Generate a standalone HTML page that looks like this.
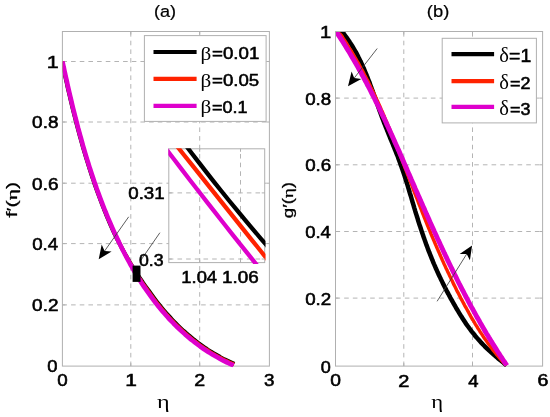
<!DOCTYPE html>
<html><head><meta charset="utf-8"><title>Figure</title>
<style>html,body{margin:0;padding:0;background:#fff;}svg{display:block;}</style></head>
<body>
<svg width="550" height="417" viewBox="0 0 550 417">
<rect width="550" height="417" fill="#fff"/>
<g stroke="#b4b4b4" stroke-width="1" stroke-dasharray="4.6 4.07" fill="none">
<line x1="130.8" y1="366.1" x2="130.8" y2="31.5"/>
<line x1="199.7" y1="366.1" x2="199.7" y2="31.5"/>
<line x1="62.4" y1="61.5" x2="269.4" y2="61.5"/>
<line x1="62.4" y1="122.0" x2="269.4" y2="122.0"/>
<line x1="62.4" y1="183.2" x2="269.4" y2="183.2"/>
<line x1="62.4" y1="243.6" x2="269.4" y2="243.6"/>
<line x1="62.4" y1="304.9" x2="269.4" y2="304.9"/>
</g>
<rect x="62.4" y="31.5" width="206.99999999999997" height="334.6" fill="none" stroke="#b0b0b0" stroke-width="1"/>
<g stroke="#b0b0b0" stroke-width="1">
<line x1="130.8" y1="366.1" x2="130.8" y2="363.1"/><line x1="130.8" y1="31.5" x2="130.8" y2="34.5"/>
<line x1="199.7" y1="366.1" x2="199.7" y2="363.1"/><line x1="199.7" y1="31.5" x2="199.7" y2="34.5"/>
<line x1="62.4" y1="61.5" x2="65.4" y2="61.5"/><line x1="269.4" y1="61.5" x2="266.4" y2="61.5"/>
<line x1="62.4" y1="122.0" x2="65.4" y2="122.0"/><line x1="269.4" y1="122.0" x2="266.4" y2="122.0"/>
<line x1="62.4" y1="183.2" x2="65.4" y2="183.2"/><line x1="269.4" y1="183.2" x2="266.4" y2="183.2"/>
<line x1="62.4" y1="243.6" x2="65.4" y2="243.6"/><line x1="269.4" y1="243.6" x2="266.4" y2="243.6"/>
<line x1="62.4" y1="304.9" x2="65.4" y2="304.9"/><line x1="269.4" y1="304.9" x2="266.4" y2="304.9"/>
</g>
<clipPath id="lc"><rect x="62.85" y="31.95" width="207.0" height="335.2"/></clipPath>
<g fill="none" stroke-linejoin="round" stroke-linecap="butt" clip-path="url(#lc)">
<path d="M62.0,61.6C62.2,62.5 62.7,65.0 63.1,66.7C63.5,68.4 63.8,70.1 64.2,71.8C64.6,73.5 65.0,75.2 65.3,76.9C65.7,78.6 66.1,80.4 66.5,82.1C66.9,83.8 67.2,85.5 67.6,87.2C68.0,88.9 68.4,90.6 68.8,92.3C69.2,94.0 69.6,95.7 70.0,97.4C70.4,99.1 70.8,100.8 71.2,102.5C71.6,104.2 72.0,105.9 72.4,107.6C72.9,109.3 73.3,111.0 73.7,112.7C74.1,114.4 74.5,116.1 75.0,117.8C75.4,119.5 75.8,121.2 76.3,122.9C76.7,124.5 77.2,126.2 77.6,127.9C78.1,129.6 78.5,131.3 79.0,133.0C79.4,134.7 79.9,136.4 80.4,138.1C80.8,139.8 81.3,141.4 81.8,143.1C82.3,144.8 82.7,146.5 83.2,148.2C83.7,149.9 84.2,151.5 84.7,153.2C85.2,154.9 85.7,156.6 86.2,158.2C86.7,159.9 87.3,161.6 87.8,163.3C88.3,164.9 88.8,166.6 89.4,168.3C89.9,169.9 90.4,171.6 91.0,173.3C91.5,174.9 92.1,176.6 92.6,178.2C93.2,179.9 93.8,181.6 94.3,183.2C94.9,184.9 95.5,186.5 96.1,188.2C96.7,189.8 97.2,191.5 97.8,193.1C98.4,194.7 99.1,196.4 99.7,198.0C100.3,199.7 100.9,201.3 101.5,202.9C102.2,204.6 102.8,206.2 103.4,207.8C104.1,209.5 104.7,211.1 105.4,212.7C106.0,214.3 106.7,216.0 107.4,217.6C108.1,219.2 108.7,220.8 109.4,222.4C110.1,224.0 110.8,225.6 111.5,227.3C112.2,228.9 112.9,230.5 113.7,232.1C114.4,233.7 115.2,235.2 115.9,236.8C116.7,238.4 117.5,239.9 118.4,241.5C119.2,243.1 120.0,244.6 120.8,246.2C121.6,247.7 122.5,249.3 123.3,250.8C124.2,252.3 125.0,253.9 125.9,255.4C126.8,256.9 127.6,258.4 128.5,259.9C129.4,261.5 130.3,263.0 131.2,264.5C132.1,266.0 133.0,267.5 134.0,268.9C134.9,270.4 135.8,271.9 136.8,273.4C137.7,274.8 138.7,276.3 139.6,277.7C140.6,279.2 141.6,280.6 142.6,282.0C143.6,283.5 144.6,284.9 145.6,286.3C146.6,287.7 147.7,289.1 148.7,290.5C149.7,291.9 150.7,293.3 151.7,294.7C152.7,296.1 153.7,297.5 154.8,298.9C155.8,300.3 156.8,301.7 157.9,303.0C159.0,304.4 160.1,305.7 161.1,307.0C162.2,308.4 163.3,309.7 164.5,311.0C165.6,312.3 166.7,313.6 167.9,314.9C169.0,316.2 170.2,317.5 171.4,318.7C172.5,320.0 173.7,321.2 174.9,322.4C176.1,323.7 177.4,324.9 178.6,326.1C179.8,327.3 181.1,328.5 182.3,329.6C183.6,330.8 184.9,331.9 186.2,333.1C187.5,334.2 188.8,335.3 190.1,336.4C191.4,337.5 192.8,338.6 194.1,339.7C195.5,340.8 196.8,341.8 198.2,342.9C199.6,343.9 201.0,344.9 202.4,345.9C203.8,346.9 205.2,347.9 206.7,348.8C208.1,349.8 209.6,350.7 211.1,351.6C212.5,352.6 214.0,353.5 215.5,354.3C217.0,355.2 218.5,356.1 220.1,356.9C221.6,357.7 223.1,358.6 224.7,359.4C226.3,360.1 227.8,360.9 229.4,361.7C231.0,362.4 233.5,363.5 234.3,363.9" stroke="#000" stroke-width="4"/>
<path d="M62.3,61.5C62.5,62.4 63.0,65.0 63.4,66.7C63.8,68.4 64.1,70.1 64.5,71.8C64.9,73.5 65.2,75.2 65.6,76.9C66.0,78.6 66.4,80.3 66.8,82.0C67.1,83.7 67.5,85.4 67.9,87.1C68.3,88.8 68.7,90.5 69.1,92.2C69.5,93.9 69.9,95.6 70.3,97.3C70.7,99.0 71.1,100.7 71.5,102.4C71.9,104.1 72.3,105.8 72.7,107.5C73.1,109.2 73.6,110.9 74.0,112.6C74.4,114.3 74.8,116.0 75.3,117.7C75.7,119.4 76.1,121.1 76.6,122.8C77.0,124.5 77.5,126.2 77.9,127.9C78.4,129.5 78.8,131.2 79.3,132.9C79.7,134.6 80.2,136.3 80.7,138.0C81.1,139.7 81.6,141.4 82.1,143.0C82.6,144.7 83.0,146.4 83.5,148.1C84.0,149.8 84.5,151.4 85.0,153.1C85.5,154.8 86.0,156.5 86.5,158.1C87.0,159.8 87.5,161.5 88.1,163.2C88.6,164.8 89.1,166.5 89.6,168.2C90.2,169.8 90.7,171.5 91.3,173.2C91.8,174.8 92.4,176.5 92.9,178.1C93.5,179.8 94.0,181.5 94.6,183.1C95.2,184.8 95.8,186.4 96.4,188.1C96.9,189.7 97.5,191.4 98.1,193.0C98.7,194.6 99.3,196.3 99.9,197.9C100.6,199.6 101.2,201.2 101.8,202.8C102.4,204.5 103.1,206.1 103.7,207.7C104.4,209.4 105.0,211.0 105.7,212.6C106.3,214.2 107.0,215.8 107.7,217.5C108.3,219.1 109.0,220.7 109.7,222.3C110.4,223.9 111.1,225.5 111.8,227.1C112.5,228.7 113.2,230.3 113.9,231.9C114.7,233.5 115.4,235.1 116.2,236.7C116.9,238.3 117.7,239.8 118.5,241.4C119.3,243.0 120.1,244.6 120.9,246.1C121.7,247.7 122.5,249.2 123.4,250.8C124.2,252.3 125.0,253.9 125.9,255.4C126.7,256.9 127.6,258.5 128.4,260.0C129.3,261.5 130.2,263.0 131.1,264.5C131.9,266.1 132.8,267.6 133.8,269.1C134.7,270.6 135.6,272.0 136.5,273.5C137.4,275.0 138.4,276.5 139.3,277.9C140.3,279.4 141.2,280.8 142.2,282.3C143.2,283.7 144.2,285.2 145.2,286.6C146.2,288.0 147.2,289.4 148.2,290.8C149.2,292.3 150.2,293.7 151.2,295.1C152.2,296.5 153.2,297.9 154.3,299.3C155.3,300.7 156.4,302.0 157.4,303.4C158.5,304.7 159.6,306.1 160.7,307.4C161.8,308.8 162.9,310.1 164.0,311.4C165.1,312.7 166.3,314.0 167.4,315.3C168.6,316.6 169.7,317.9 170.9,319.1C172.1,320.4 173.3,321.6 174.5,322.9C175.7,324.1 176.9,325.3 178.2,326.5C179.4,327.7 180.7,328.9 181.9,330.1C183.2,331.2 184.5,332.4 185.8,333.5C187.1,334.7 188.4,335.8 189.7,336.9C191.0,338.0 192.4,339.1 193.7,340.2C195.1,341.2 196.5,342.3 197.9,343.3C199.2,344.4 200.6,345.4 202.1,346.4C203.5,347.4 204.9,348.4 206.4,349.3C207.8,350.3 209.3,351.2 210.7,352.2C212.2,353.1 213.7,354.0 215.2,354.9C216.7,355.7 218.2,356.6 219.8,357.4C221.3,358.3 222.9,359.1 224.4,359.9C226.0,360.7 227.6,361.5 229.2,362.2C230.8,363.0 233.2,364.0 234.1,364.4" stroke="#ff2200" stroke-width="3.6"/>
<path d="M62.5,61.5C62.7,62.4 63.2,64.9 63.6,66.6C64.0,68.3 64.3,70.0 64.7,71.7C65.1,73.4 65.4,75.1 65.8,76.8C66.2,78.5 66.6,80.2 67.0,81.9C67.3,83.7 67.7,85.4 68.1,87.1C68.5,88.8 68.9,90.5 69.3,92.2C69.7,93.9 70.1,95.6 70.5,97.3C70.9,99.0 71.3,100.7 71.7,102.4C72.1,104.1 72.5,105.8 72.9,107.5C73.3,109.2 73.8,110.9 74.2,112.6C74.6,114.3 75.0,116.0 75.5,117.6C75.9,119.3 76.3,121.0 76.8,122.7C77.2,124.4 77.7,126.1 78.1,127.8C78.6,129.5 79.0,131.2 79.5,132.9C79.9,134.6 80.4,136.2 80.9,137.9C81.3,139.6 81.8,141.3 82.3,143.0C82.7,144.7 83.2,146.4 83.7,148.0C84.2,149.7 84.7,151.4 85.2,153.1C85.7,154.7 86.2,156.4 86.7,158.1C87.2,159.8 87.7,161.4 88.3,163.1C88.8,164.8 89.3,166.4 89.8,168.1C90.4,169.8 90.9,171.4 91.5,173.1C92.0,174.8 92.6,176.4 93.1,178.1C93.7,179.7 94.2,181.4 94.8,183.0C95.4,184.7 96.0,186.3 96.5,188.0C97.1,189.6 97.7,191.3 98.3,192.9C98.9,194.6 99.5,196.2 100.1,197.9C100.7,199.5 101.4,201.1 102.0,202.8C102.6,204.4 103.3,206.0 103.9,207.7C104.5,209.3 105.2,210.9 105.9,212.5C106.5,214.2 107.2,215.8 107.8,217.4C108.5,219.0 109.2,220.6 109.9,222.2C110.6,223.8 111.3,225.4 112.0,227.1C112.7,228.7 113.4,230.3 114.1,231.9C114.8,233.5 115.6,235.0 116.3,236.6C117.1,238.2 117.8,239.8 118.6,241.4C119.3,243.0 120.1,244.6 120.9,246.1C121.6,247.7 122.4,249.3 123.2,250.8C124.0,252.4 124.8,254.0 125.6,255.5C126.4,257.1 127.3,258.6 128.1,260.2C128.9,261.7 129.8,263.3 130.6,264.8C131.5,266.3 132.4,267.8 133.2,269.3C134.1,270.9 135.0,272.4 135.9,273.9C136.8,275.4 137.7,276.9 138.6,278.4C139.6,279.8 140.5,281.3 141.4,282.8C142.4,284.2 143.4,285.7 144.3,287.2C145.3,288.6 146.3,290.0 147.3,291.5C148.3,292.9 149.3,294.3 150.3,295.7C151.3,297.1 152.3,298.5 153.4,299.9C154.4,301.3 155.5,302.7 156.6,304.1C157.6,305.4 158.7,306.8 159.8,308.1C160.9,309.5 162.0,310.8 163.2,312.1C164.3,313.4 165.4,314.7 166.6,316.0C167.8,317.3 168.9,318.6 170.1,319.9C171.3,321.1 172.5,322.4 173.7,323.6C174.9,324.9 176.2,326.1 177.4,327.3C178.7,328.5 179.9,329.7 181.2,330.9C182.5,332.1 183.8,333.2 185.1,334.4C186.4,335.5 187.7,336.6 189.0,337.7C190.3,338.9 191.7,340.0 193.1,341.0C194.4,342.1 195.8,343.2 197.2,344.2C198.6,345.3 200.0,346.3 201.4,347.3C202.8,348.3 204.3,349.3 205.7,350.2C207.2,351.2 208.7,352.2 210.2,353.1C211.6,354.0 213.1,354.9 214.7,355.8C216.2,356.7 217.7,357.6 219.3,358.4C220.8,359.2 222.4,360.1 223.9,360.9C225.5,361.7 227.1,362.5 228.7,363.2C230.3,364.0 232.8,365.0 233.6,365.4" stroke="#de00cc" stroke-width="4.6"/>
</g>
<line x1="128.7" y1="216.8" x2="104.6" y2="251.0" stroke="#333" stroke-width="0.8"/><polygon points="98.7,259.3 101.7,244.5 104.6,251.0 111.6,251.5" fill="#000"/>
<line x1="159.9" y1="232.7" x2="141.0" y2="260.0" stroke="#333" stroke-width="0.8"/>
<rect x="132.6" y="265.6" width="7.9" height="16.3" fill="#000"/>
<rect x="144.4" y="35.6" width="121.7" height="85.8" fill="#fff" stroke="#b0b0b0" stroke-width="1"/>
<line x1="153.5" y1="52.0" x2="196.6" y2="52.0" stroke="#000" stroke-width="4.2"/>
<line x1="153.5" y1="78.9" x2="196.6" y2="78.9" stroke="#ff2200" stroke-width="4.2"/>
<line x1="153.5" y1="105.8" x2="196.6" y2="105.8" stroke="#de00cc" stroke-width="4.2"/>
<rect x="168.8" y="148.8" width="95.9" height="113.8" fill="#fff"/>
<g stroke="#b4b4b4" stroke-width="1" stroke-dasharray="4.6 4.07">
<line x1="199.7" y1="262.6" x2="199.7" y2="148.8"/>
<line x1="240.5" y1="262.6" x2="240.5" y2="148.8"/>
<line x1="168.8" y1="192.9" x2="264.7" y2="192.9"/>
<line x1="168.8" y1="259.0" x2="264.7" y2="259.0"/>
</g>
<clipPath id="ic"><rect x="168.3" y="148.3" width="97.2" height="115.6"/></clipPath>
<rect x="168.8" y="148.8" width="95.9" height="113.8" fill="none" stroke="#b0b0b0" stroke-width="1"/>
<g clip-path="url(#ic)" stroke-width="4.3" fill="none">
<path d="M184.78,144.00 L191.93,153.45 L199.18,162.91 L206.53,172.36 L213.98,181.82 L221.53,191.27 L229.18,200.73 L236.94,210.18 L244.79,219.64 L252.75,229.09 L260.81,238.55 L268.97,248.00" stroke="#000"/>
<path d="M175.28,144.00 L183.82,154.73 L192.37,165.45 L200.92,176.18 L209.47,186.91 L218.03,197.64 L226.59,208.36 L235.16,219.09 L243.73,229.82 L252.30,240.55 L260.88,251.27 L269.46,262.00" stroke="#ff2200"/>
<path d="M165.37,148.00 L173.62,158.82 L181.92,169.64 L190.25,180.45 L198.62,191.27 L207.04,202.09 L215.50,212.91 L224.00,223.73 L232.54,234.55 L241.12,245.36 L249.74,256.18 L258.41,267.00" stroke="#de00cc"/>
</g>
<g stroke="#b0b0b0" stroke-width="1">
<line x1="199.7" y1="262.6" x2="199.7" y2="259.6"/><line x1="199.7" y1="148.8" x2="199.7" y2="151.8"/>
<line x1="240.5" y1="262.6" x2="240.5" y2="259.6"/><line x1="240.5" y1="148.8" x2="240.5" y2="151.8"/>
<line x1="168.8" y1="192.9" x2="171.8" y2="192.9"/><line x1="264.7" y1="192.9" x2="261.7" y2="192.9"/>
<line x1="168.8" y1="259.0" x2="171.8" y2="259.0"/><line x1="264.7" y1="259.0" x2="261.7" y2="259.0"/>
</g>
<g stroke="#b4b4b4" stroke-width="1" stroke-dasharray="4.6 4.07" fill="none">
<line x1="403.8" y1="366.1" x2="403.8" y2="31.5"/>
<line x1="472.5" y1="366.1" x2="472.5" y2="31.5"/>
<line x1="335.5" y1="98.1" x2="542.6" y2="98.1"/>
<line x1="335.5" y1="164.8" x2="542.6" y2="164.8"/>
<line x1="335.5" y1="231.5" x2="542.6" y2="231.5"/>
<line x1="335.5" y1="298.1" x2="542.6" y2="298.1"/>
</g>
<rect x="335.5" y="31.5" width="207.1" height="334.6" fill="none" stroke="#b0b0b0" stroke-width="1"/>
<g stroke="#b0b0b0" stroke-width="1">
<line x1="403.8" y1="366.1" x2="403.8" y2="363.1"/><line x1="403.8" y1="31.5" x2="403.8" y2="34.5"/>
<line x1="472.5" y1="366.1" x2="472.5" y2="363.1"/><line x1="472.5" y1="31.5" x2="472.5" y2="34.5"/>
<line x1="335.5" y1="98.1" x2="338.5" y2="98.1"/><line x1="542.6" y1="98.1" x2="539.6" y2="98.1"/>
<line x1="335.5" y1="164.8" x2="338.5" y2="164.8"/><line x1="542.6" y1="164.8" x2="539.6" y2="164.8"/>
<line x1="335.5" y1="231.5" x2="338.5" y2="231.5"/><line x1="542.6" y1="231.5" x2="539.6" y2="231.5"/>
<line x1="335.5" y1="298.1" x2="338.5" y2="298.1"/><line x1="542.6" y1="298.1" x2="539.6" y2="298.1"/>
</g>
<clipPath id="rc"><rect x="335.95" y="31.95" width="207.1" height="335.2"/></clipPath>
<g fill="none" stroke-linejoin="round" stroke-linecap="butt" clip-path="url(#rc)">
<path d="M335.5,31.5C336.1,31.3 337.7,30.3 338.8,30.4C339.9,30.5 341.0,31.2 342.0,31.9C343.0,32.6 343.7,33.7 344.6,34.8C345.5,35.9 346.4,37.3 347.3,38.5C348.2,39.8 349.0,41.0 349.8,42.3C350.7,43.5 351.5,44.8 352.2,46.0C353.0,47.3 353.7,48.5 354.5,49.8C355.2,51.0 355.9,52.3 356.6,53.5C357.2,54.8 357.9,56.0 358.5,57.3C359.2,58.6 359.8,59.8 360.4,61.1C361.0,62.3 361.6,63.6 362.1,64.8C362.7,66.1 363.3,67.3 363.8,68.6C364.4,69.8 364.9,71.1 365.4,72.3C365.9,73.6 366.5,74.8 367.0,76.1C367.5,77.3 367.9,78.6 368.4,79.8C368.9,81.1 369.4,82.3 369.9,83.6C370.3,84.9 370.8,86.1 371.3,87.4C371.7,88.6 372.2,89.9 372.6,91.1C373.1,92.4 373.5,93.6 374.0,94.9C374.4,96.1 374.9,97.4 375.3,98.6C375.8,99.9 376.2,101.1 376.7,102.4C377.1,103.6 377.5,104.9 378.0,106.1C378.4,107.4 378.9,108.6 379.3,109.9C379.8,111.2 380.2,112.4 380.7,113.7C381.2,114.9 381.6,116.2 382.1,117.4C382.6,118.7 383.0,119.9 383.5,121.2C384.0,122.4 384.5,123.7 385.0,124.9C385.5,126.2 386.0,127.4 386.5,128.7C387.0,129.9 387.5,131.2 388.0,132.4C388.5,133.7 389.0,135.0 389.5,136.2C390.0,137.5 390.5,138.7 391.0,140.0C391.5,141.2 392.1,142.5 392.6,143.7C393.1,145.0 393.6,146.2 394.1,147.5C394.6,148.7 395.1,150.0 395.6,151.2C396.1,152.5 396.6,153.7 397.1,155.0C397.6,156.2 398.1,157.5 398.5,158.7C399.0,160.0 399.5,161.3 399.9,162.5C400.4,163.8 400.9,165.0 401.3,166.3C401.7,167.5 402.2,168.8 402.6,170.0C403.0,171.3 403.5,172.5 403.9,173.8C404.3,175.0 404.7,176.3 405.1,177.5C405.5,178.8 405.9,180.0 406.3,181.3C406.7,182.5 407.1,183.8 407.5,185.0C407.8,186.3 408.2,187.6 408.6,188.8C409.0,190.1 409.4,191.3 409.7,192.6C410.1,193.8 410.5,195.1 410.9,196.3C411.2,197.6 411.6,198.8 412.0,200.1C412.3,201.3 412.7,202.6 413.1,203.8C413.5,205.1 413.8,206.3 414.2,207.6C414.6,208.8 415.0,210.1 415.3,211.3C415.7,212.6 416.1,213.9 416.5,215.1C416.9,216.4 417.3,217.6 417.7,218.9C418.0,220.1 418.4,221.4 418.8,222.6C419.2,223.9 419.6,225.1 420.1,226.4C420.5,227.6 420.9,228.9 421.3,230.1C421.7,231.4 422.1,232.6 422.6,233.9C423.0,235.1 423.4,236.4 423.9,237.7C424.3,238.9 424.7,240.2 425.2,241.4C425.6,242.7 426.1,243.9 426.5,245.2C427.0,246.4 427.5,247.7 427.9,248.9C428.4,250.2 428.9,251.4 429.4,252.7C429.9,253.9 430.4,255.2 430.9,256.4C431.4,257.7 431.9,258.9 432.4,260.2C432.9,261.4 433.5,262.7 434.0,264.0C434.5,265.2 435.1,266.5 435.6,267.7C436.2,269.0 436.7,270.2 437.3,271.5C437.9,272.7 438.4,274.0 439.0,275.2C439.6,276.5 440.2,277.7 440.8,279.0C441.4,280.2 442.0,281.5 442.6,282.7C443.2,284.0 443.9,285.2 444.5,286.5C445.1,287.7 445.8,289.0 446.4,290.3C447.1,291.5 447.7,292.8 448.4,294.0C449.1,295.3 449.7,296.5 450.4,297.8C451.1,299.0 451.8,300.3 452.5,301.5C453.2,302.8 453.9,304.0 454.6,305.3C455.4,306.5 456.1,307.8 456.8,309.0C457.6,310.3 458.3,311.5 459.1,312.8C459.8,314.0 460.6,315.3 461.4,316.6C462.2,317.8 463.0,319.1 463.8,320.3C464.6,321.6 465.4,322.8 466.3,324.1C467.2,325.3 468.1,326.6 469.0,327.8C469.9,329.1 470.8,330.3 471.8,331.6C472.8,332.8 473.8,334.1 474.8,335.3C475.8,336.6 476.9,337.8 478.0,339.1C479.1,340.3 480.2,341.6 481.4,342.9C482.6,344.1 483.8,345.4 485.0,346.6C486.3,347.9 487.6,349.1 489.0,350.4C490.3,351.6 491.7,352.9 493.1,354.1C494.5,355.4 496.0,356.6 497.5,357.9C499.0,359.1 500.5,360.4 502.0,361.6C503.5,362.9 505.9,364.8 506.6,365.4" stroke="#000" stroke-width="4.5"/>
<path d="M335.5,31.5C336.4,32.0 339.6,33.6 340.9,34.8C342.2,35.9 342.5,37.3 343.3,38.5C344.2,39.8 345.0,41.0 345.8,42.3C346.6,43.5 347.4,44.8 348.1,46.0C348.9,47.3 349.7,48.5 350.4,49.8C351.2,51.0 352.0,52.3 352.7,53.5C353.4,54.8 354.2,56.0 354.9,57.3C355.6,58.6 356.4,59.8 357.1,61.1C357.8,62.3 358.5,63.6 359.2,64.8C359.9,66.1 360.6,67.3 361.2,68.6C361.9,69.8 362.6,71.1 363.3,72.3C363.9,73.6 364.6,74.8 365.2,76.1C365.9,77.3 366.5,78.6 367.2,79.8C367.8,81.1 368.4,82.3 369.1,83.6C369.7,84.9 370.3,86.1 370.9,87.4C371.5,88.6 372.2,89.9 372.8,91.1C373.4,92.4 374.0,93.6 374.6,94.9C375.2,96.1 375.7,97.4 376.3,98.6C376.9,99.9 377.5,101.1 378.1,102.4C378.6,103.6 379.2,104.9 379.8,106.1C380.3,107.4 380.9,108.6 381.4,109.9C382.0,111.2 382.6,112.4 383.1,113.7C383.6,114.9 384.2,116.2 384.7,117.4C385.3,118.7 385.8,119.9 386.3,121.2C386.9,122.4 387.4,123.7 387.9,124.9C388.5,126.2 389.0,127.4 389.5,128.7C390.0,129.9 390.5,131.2 391.0,132.4C391.6,133.7 392.1,135.0 392.6,136.2C393.1,137.5 393.6,138.7 394.1,140.0C394.6,141.2 395.1,142.5 395.6,143.7C396.1,145.0 396.6,146.2 397.1,147.5C397.6,148.7 398.1,150.0 398.6,151.2C399.1,152.5 399.6,153.7 400.1,155.0C400.5,156.2 401.0,157.5 401.5,158.7C402.0,160.0 402.5,161.3 403.0,162.5C403.5,163.8 403.9,165.0 404.4,166.3C404.9,167.5 405.4,168.8 405.9,170.0C406.4,171.3 406.8,172.5 407.3,173.8C407.8,175.0 408.3,176.3 408.8,177.5C409.2,178.8 409.7,180.0 410.2,181.3C410.7,182.5 411.2,183.8 411.7,185.0C412.1,186.3 412.6,187.6 413.1,188.8C413.6,190.1 414.1,191.3 414.5,192.6C415.0,193.8 415.5,195.1 416.0,196.3C416.5,197.6 417.0,198.8 417.5,200.1C418.0,201.3 418.4,202.6 418.9,203.8C419.4,205.1 419.9,206.3 420.4,207.6C420.9,208.8 421.4,210.1 421.9,211.3C422.4,212.6 422.9,213.9 423.4,215.1C423.9,216.4 424.4,217.6 424.9,218.9C425.4,220.1 425.9,221.4 426.4,222.6C426.9,223.9 427.4,225.1 427.9,226.4C428.4,227.6 429.0,228.9 429.5,230.1C430.0,231.4 430.5,232.6 431.0,233.9C431.6,235.1 432.1,236.4 432.6,237.7C433.1,238.9 433.7,240.2 434.2,241.4C434.7,242.7 435.3,243.9 435.8,245.2C436.3,246.4 436.9,247.7 437.4,248.9C438.0,250.2 438.5,251.4 439.1,252.7C439.6,253.9 440.2,255.2 440.7,256.4C441.3,257.7 441.8,258.9 442.4,260.2C443.0,261.4 443.5,262.7 444.1,264.0C444.7,265.2 445.3,266.5 445.8,267.7C446.4,269.0 447.0,270.2 447.6,271.5C448.2,272.7 448.8,274.0 449.4,275.2C450.0,276.5 450.6,277.7 451.2,279.0C451.8,280.2 452.4,281.5 453.0,282.7C453.6,284.0 454.2,285.2 454.9,286.5C455.5,287.7 456.1,289.0 456.7,290.3C457.4,291.5 458.0,292.8 458.7,294.0C459.3,295.3 460.0,296.5 460.6,297.8C461.3,299.0 461.9,300.3 462.6,301.5C463.3,302.8 463.9,304.0 464.6,305.3C465.3,306.5 466.0,307.8 466.7,309.0C467.4,310.3 468.1,311.5 468.8,312.8C469.5,314.0 470.2,315.3 470.9,316.6C471.6,317.8 472.3,319.1 473.1,320.3C473.8,321.6 474.6,322.8 475.3,324.1C476.1,325.3 476.8,326.6 477.6,327.8C478.4,329.1 479.2,330.3 480.0,331.6C480.8,332.8 481.6,334.1 482.5,335.3C483.3,336.6 484.2,337.8 485.0,339.1C485.9,340.3 486.8,341.6 487.7,342.9C488.6,344.1 489.5,345.4 490.4,346.6C491.4,347.9 492.3,349.1 493.3,350.4C494.3,351.6 495.3,352.9 496.3,354.1C497.4,355.4 498.4,356.6 499.5,357.9C500.5,359.1 501.6,360.4 502.7,361.6C503.9,362.9 505.6,364.8 506.2,365.4" stroke="#ff2200" stroke-width="3.4"/>
<path d="M335.8,31.0C336.2,31.7 337.6,33.7 338.4,35.0C339.3,36.3 340.2,37.7 341.0,39.0C341.9,40.3 342.8,41.7 343.6,43.0C344.4,44.4 345.3,45.7 346.1,47.1C346.9,48.4 347.8,49.8 348.6,51.1C349.4,52.5 350.2,53.9 351.0,55.2C351.8,56.6 352.6,58.0 353.4,59.3C354.2,60.7 355.0,62.1 355.8,63.4C356.6,64.8 357.4,66.2 358.2,67.6C358.9,69.0 359.7,70.4 360.5,71.7C361.2,73.1 362.0,74.5 362.7,75.9C363.5,77.3 364.2,78.7 365.0,80.1C365.7,81.5 366.5,82.9 367.2,84.3C367.9,85.7 368.7,87.1 369.4,88.5C370.1,89.9 370.8,91.3 371.5,92.8C372.3,94.2 373.0,95.6 373.7,97.0C374.4,98.4 375.1,99.8 375.8,101.3C376.5,102.7 377.2,104.1 377.9,105.5C378.6,106.9 379.3,108.4 380.0,109.8C380.7,111.2 381.3,112.7 382.0,114.1C382.7,115.5 383.4,116.9 384.1,118.4C384.7,119.8 385.4,121.3 386.1,122.7C386.7,124.1 387.4,125.6 388.1,127.0C388.7,128.4 389.4,129.9 390.1,131.3C390.7,132.8 391.4,134.2 392.0,135.7C392.7,137.1 393.3,138.6 394.0,140.0C394.6,141.4 395.3,142.9 395.9,144.3C396.6,145.8 397.2,147.2 397.9,148.7C398.5,150.1 399.2,151.6 399.8,153.0C400.4,154.5 401.1,155.9 401.7,157.4C402.4,158.9 403.0,160.3 403.6,161.8C404.3,163.2 404.9,164.7 405.5,166.1C406.2,167.6 406.8,169.0 407.4,170.5C408.1,171.9 408.7,173.4 409.3,174.9C410.0,176.3 410.6,177.8 411.2,179.2C411.9,180.7 412.5,182.1 413.1,183.6C413.8,185.1 414.4,186.5 415.0,188.0C415.7,189.4 416.3,190.9 417.0,192.3C417.6,193.8 418.2,195.2 418.9,196.7C419.5,198.2 420.1,199.6 420.8,201.1C421.4,202.5 422.1,204.0 422.7,205.4C423.3,206.9 424.0,208.3 424.6,209.8C425.3,211.2 425.9,212.7 426.5,214.1C427.2,215.6 427.8,217.0 428.5,218.5C429.1,219.9 429.8,221.4 430.4,222.8C431.1,224.3 431.7,225.7 432.4,227.2C433.0,228.6 433.7,230.1 434.3,231.5C435.0,233.0 435.7,234.4 436.3,235.9C437.0,237.3 437.6,238.7 438.3,240.2C439.0,241.6 439.6,243.1 440.3,244.5C441.0,246.0 441.6,247.4 442.3,248.8C443.0,250.3 443.7,251.7 444.3,253.1C445.0,254.6 445.7,256.0 446.4,257.4C447.1,258.9 447.7,260.3 448.4,261.7C449.1,263.2 449.8,264.6 450.5,266.0C451.2,267.4 451.9,268.9 452.6,270.3C453.3,271.7 454.0,273.1 454.7,274.6C455.4,276.0 456.1,277.4 456.8,278.8C457.5,280.2 458.2,281.7 458.9,283.1C459.7,284.5 460.4,285.9 461.1,287.3C461.8,288.7 462.5,290.1 463.3,291.5C464.0,293.0 464.7,294.4 465.5,295.8C466.2,297.2 467.0,298.6 467.7,300.0C468.4,301.4 469.2,302.8 469.9,304.2C470.7,305.6 471.4,307.0 472.2,308.3C473.0,309.7 473.7,311.1 474.5,312.5C475.3,313.9 476.0,315.3 476.8,316.7C477.6,318.1 478.4,319.4 479.2,320.8C479.9,322.2 480.7,323.6 481.5,324.9C482.3,326.3 483.1,327.7 483.9,329.1C484.7,330.4 485.5,331.8 486.3,333.2C487.1,334.5 488.0,335.9 488.8,337.3C489.6,338.6 490.4,340.0 491.3,341.3C492.1,342.7 492.9,344.0 493.8,345.4C494.6,346.7 495.5,348.1 496.3,349.4C497.2,350.8 498.0,352.1 498.9,353.4C499.8,354.8 500.6,356.1 501.5,357.4C502.4,358.8 503.2,360.1 504.1,361.4C505.0,362.8 506.4,364.7 506.8,365.4" stroke="#de00cc" stroke-width="4.9"/>
</g>
<line x1="377.2" y1="48.5" x2="354.2" y2="78.1" stroke="#333" stroke-width="0.8"/><polygon points="348.0,86.2 351.6,71.6 354.2,78.1 361.3,79.0" fill="#000"/>
<line x1="437.1" y1="301.3" x2="466.7" y2="254.0" stroke="#333" stroke-width="0.8"/><polygon points="472.1,245.4 469.9,260.3 466.7,254.0 459.6,253.9" fill="#000"/>
<rect x="442.2" y="38.3" width="94.2" height="84.6" fill="#fff" stroke="#b0b0b0" stroke-width="1"/>
<line x1="451.5" y1="54.2" x2="494.1" y2="54.2" stroke="#000" stroke-width="4.2"/>
<line x1="451.5" y1="81.1" x2="494.1" y2="81.1" stroke="#ff2200" stroke-width="4.2"/>
<line x1="451.5" y1="106.9" x2="494.1" y2="106.9" stroke="#de00cc" stroke-width="4.2"/>
<g fill="#000">
<text transform="translate(154.01,17.17) scale(1.142,1)" font-family='"Liberation Sans", sans-serif' font-size="15.85" font-weight="normal" stroke="#000" stroke-width="0.19">(a)</text>
<text transform="translate(426.80,16.85) scale(1.152,1)" font-family='"Liberation Sans", sans-serif' font-size="15.96" font-weight="normal" stroke="#000" stroke-width="0.19">(b)</text>
<text transform="translate(46.81,67.96) scale(1.267,1)" font-family='"Liberation Sans", sans-serif' font-size="16.99" font-weight="normal" stroke="#000" stroke-width="0.58">1</text>
<text transform="translate(32.12,128.30) scale(1.146,1)" font-family='"Liberation Sans", sans-serif' font-size="16.53" font-weight="normal" stroke="#000" stroke-width="0.56">0.8</text>
<text transform="translate(32.12,189.50) scale(1.146,1)" font-family='"Liberation Sans", sans-serif' font-size="16.53" font-weight="normal" stroke="#000" stroke-width="0.56">0.6</text>
<text transform="translate(32.13,249.90) scale(1.130,1)" font-family='"Liberation Sans", sans-serif' font-size="16.53" font-weight="normal" stroke="#000" stroke-width="0.56">0.4</text>
<text transform="translate(32.12,311.20) scale(1.146,1)" font-family='"Liberation Sans", sans-serif' font-size="16.53" font-weight="normal" stroke="#000" stroke-width="0.56">0.2</text>
<text transform="translate(47.23,372.40) scale(1.115,1)" font-family='"Liberation Sans", sans-serif' font-size="16.53" font-weight="normal" stroke="#000" stroke-width="0.56">0</text>
<text transform="translate(57.22,386.22) scale(1.176,1)" font-family='"Liberation Sans", sans-serif' font-size="16.00" font-weight="normal" stroke="#000" stroke-width="0.54">0</text>
<text transform="translate(125.35,386.37) scale(1.270,1)" font-family='"Liberation Sans", sans-serif' font-size="16.44" font-weight="normal" stroke="#000" stroke-width="0.56">1</text>
<text transform="translate(194.31,386.38) scale(1.208,1)" font-family='"Liberation Sans", sans-serif' font-size="16.22" font-weight="normal" stroke="#000" stroke-width="0.55">2</text>
<text transform="translate(264.12,386.22) scale(1.176,1)" font-family='"Liberation Sans", sans-serif' font-size="16.00" font-weight="normal" stroke="#000" stroke-width="0.54">3</text>
<text transform="translate(319.99,38.07) scale(1.210,1)" font-family='"Liberation Sans", sans-serif' font-size="16.71" font-weight="normal" stroke="#000" stroke-width="0.57">1</text>
<text transform="translate(305.13,104.51) scale(1.152,1)" font-family='"Liberation Sans", sans-serif' font-size="16.27" font-weight="normal" stroke="#000" stroke-width="0.55">0.8</text>
<text transform="translate(305.13,171.21) scale(1.152,1)" font-family='"Liberation Sans", sans-serif' font-size="16.27" font-weight="normal" stroke="#000" stroke-width="0.55">0.6</text>
<text transform="translate(305.13,237.91) scale(1.135,1)" font-family='"Liberation Sans", sans-serif' font-size="16.27" font-weight="normal" stroke="#000" stroke-width="0.55">0.4</text>
<text transform="translate(305.13,304.51) scale(1.152,1)" font-family='"Liberation Sans", sans-serif' font-size="16.27" font-weight="normal" stroke="#000" stroke-width="0.55">0.2</text>
<text transform="translate(320.64,372.51) scale(1.109,1)" font-family='"Liberation Sans", sans-serif' font-size="16.27" font-weight="normal" stroke="#000" stroke-width="0.55">0</text>
<text transform="translate(330.22,386.41) scale(1.172,1)" font-family='"Liberation Sans", sans-serif' font-size="16.40" font-weight="normal" stroke="#000" stroke-width="0.56">0</text>
<text transform="translate(398.30,386.57) scale(1.203,1)" font-family='"Liberation Sans", sans-serif' font-size="16.62" font-weight="normal" stroke="#000" stroke-width="0.57">2</text>
<text transform="translate(468.22,386.73) scale(1.082,1)" font-family='"Liberation Sans", sans-serif' font-size="17.08" font-weight="normal" stroke="#000" stroke-width="0.58">4</text>
<text transform="translate(537.61,386.41) scale(1.195,1)" font-family='"Liberation Sans", sans-serif' font-size="16.40" font-weight="normal" stroke="#000" stroke-width="0.56">6</text>
<text transform="translate(128.23,199.33) scale(1.190,1)" font-family='"Liberation Sans", sans-serif' font-size="15.73" font-weight="normal" stroke="#000" stroke-width="0.53">0.31</text>
<text transform="translate(138.95,265.83) scale(1.134,1)" font-family='"Liberation Sans", sans-serif' font-size="15.60" font-weight="normal" stroke="#000" stroke-width="0.53">0.3</text>
<text transform="translate(181.30,283.13) scale(1.169,1)" font-family='"Liberation Sans", sans-serif' font-size="15.73" font-weight="normal" stroke="#000" stroke-width="0.53">1.04</text>
<text transform="translate(221.97,283.13) scale(1.199,1)" font-family='"Liberation Sans", sans-serif' font-size="15.73" font-weight="normal" stroke="#000" stroke-width="0.53">1.06</text>
<text transform="translate(200.43,60.01) scale(1.116,1)" font-family='"Liberation Serif", serif' font-size="19.01" font-weight="normal">β</text>
<text transform="translate(212.04,59.13) scale(1.199,1)" font-family='"Liberation Sans", sans-serif' font-size="15.60" font-weight="normal" stroke="#000" stroke-width="0.53">=0.01</text>
<text transform="translate(200.43,86.71) scale(1.116,1)" font-family='"Liberation Serif", serif' font-size="19.01" font-weight="normal">β</text>
<text transform="translate(212.04,85.83) scale(1.194,1)" font-family='"Liberation Sans", sans-serif' font-size="15.60" font-weight="normal" stroke="#000" stroke-width="0.53">=0.05</text>
<text transform="translate(200.43,113.41) scale(1.116,1)" font-family='"Liberation Serif", serif' font-size="19.01" font-weight="normal">β</text>
<text transform="translate(212.06,112.53) scale(1.155,1)" font-family='"Liberation Sans", sans-serif' font-size="15.60" font-weight="normal" stroke="#000" stroke-width="0.53">=0.1</text>
<text transform="translate(499.28,61.90) scale(1.018,1)" font-family='"Liberation Serif", serif' font-size="20.14" font-weight="normal">δ</text>
<text transform="translate(509.12,61.72) scale(1.099,1)" font-family='"Liberation Sans", sans-serif' font-size="17.61" font-weight="normal" stroke="#000" stroke-width="0.56">=1</text>
<text transform="translate(499.28,88.80) scale(1.018,1)" font-family='"Liberation Serif", serif' font-size="20.14" font-weight="normal">δ</text>
<text transform="translate(509.96,88.63) scale(1.035,1)" font-family='"Liberation Sans", sans-serif' font-size="17.36" font-weight="normal" stroke="#000" stroke-width="0.56">=2</text>
<text transform="translate(499.28,115.00) scale(1.018,1)" font-family='"Liberation Serif", serif' font-size="20.14" font-weight="normal">δ</text>
<text transform="translate(509.96,114.66) scale(1.049,1)" font-family='"Liberation Sans", sans-serif' font-size="17.12" font-weight="normal" stroke="#000" stroke-width="0.55">=3</text>
<text transform="translate(16.91,217.52) rotate(-90) scale(1.530,1)" font-size="14.06" font-weight="normal" stroke="#000" stroke-width="0.25"><tspan font-family='"Liberation Sans", sans-serif' >f′(</tspan><tspan font-family='"Liberation Serif", serif' >η</tspan><tspan font-family='"Liberation Sans", sans-serif' >)</tspan></text>
<text transform="translate(292.72,218.26) rotate(-90) scale(1.256,1)" font-size="14.90" font-weight="normal" stroke="#000" stroke-width="0.27"><tspan font-family='"Liberation Sans", sans-serif' >g′(</tspan><tspan font-family='"Liberation Serif", serif' >η</tspan><tspan font-family='"Liberation Sans", sans-serif' >)</tspan></text>
<text transform="translate(156.92,408.00) scale(1.339,1)" font-family='"Liberation Serif", serif' font-size="18.09" font-weight="normal">η</text>
<text transform="translate(431.15,407.88) scale(1.214,1)" font-family='"Liberation Serif", serif' font-size="18.68" font-weight="normal">η</text>
</g>
</svg>
</body></html>
